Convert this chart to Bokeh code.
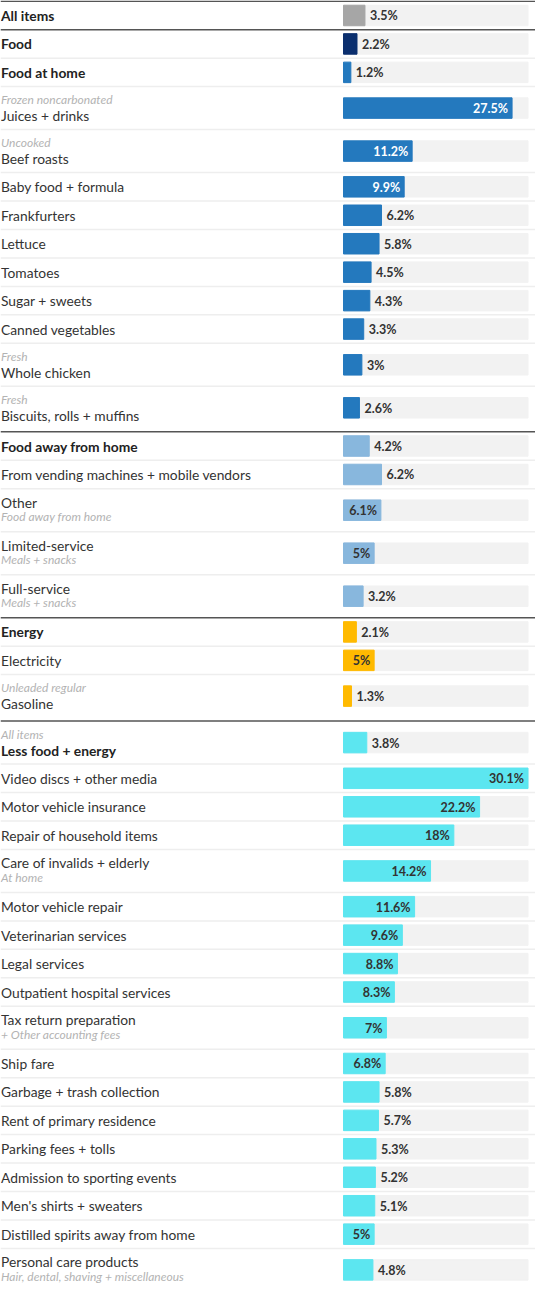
from bokeh.plotting import figure
from bokeh.models import ColumnDataSource, Range1d
from bokeh.embed import file_html
from bokeh.resources import INLINE
from bokeh.core.properties import value as V

# ---------------- data ----------------
labels = ["All items", "Food", "Food at home", "Juices + drinks", "Beef roasts",
          "Baby food + formula", "Frankfurters", "Lettuce", "Tomatoes", "Sugar + sweets",
          "Canned vegetables", "Whole chicken", "Biscuits, rolls + muffins",
          "Food away from home", "From vending machines + mobile vendors", "Other",
          "Limited-service", "Full-service", "Energy", "Electricity", "Gasoline",
          "Less food + energy", "Video discs + other media", "Motor vehicle insurance",
          "Repair of household items", "Care of invalids + elderly", "Motor vehicle repair",
          "Veterinarian services", "Legal services", "Outpatient hospital services",
          "Tax return preparation", "Ship fare", "Garbage + trash collection",
          "Rent of primary residence", "Parking fees + tolls", "Admission to sporting events",
          "Men's shirts + sweaters", "Distilled spirits away from home", "Personal care products"]
values = [3.5, 2.2, 1.2, 27.5, 11.2, 9.9, 6.2, 5.8, 4.5, 4.3, 3.3, 3.0, 2.6,
          4.2, 6.2, 6.1, 5.0, 3.2, 2.1, 5.0, 1.3,
          3.8, 30.1, 22.2, 18.0, 14.2, 11.6, 9.6, 8.8, 8.3, 7.0, 6.8, 5.8, 5.7, 5.3, 5.2, 5.1, 5.0, 4.8]
prefixes = ["", "", "", "Frozen noncarbonated", "Uncooked", "", "", "", "", "", "", "Fresh", "Fresh",
            "", "", "", "", "", "", "", "Unleaded regular",
            "All items", "", "", "", "", "", "", "", "", "", "", "", "", "", "", "", "", ""]
suffixes = ["", "", "", "", "", "", "", "", "", "", "", "", "",
            "", "", "Food away from home", "Meals + snacks", "Meals + snacks", "", "", "",
            "", "", "", "", "At home", "", "", "", "", "+ Other accounting fees", "", "", "", "", "", "", "",
            "Hair, dental, shaving + miscellaneous"]
groups = (["All items", "Food"] + ["Food at home"] * 11 + ["Food away from home"] * 5
          + ["Energy"] * 3 + ["Less food + energy"] * 18)
sections = [0] + [1] * 12 + [2] * 5 + [3] * 3 + [4] * 18
headers = ["All items", "Food", "Food at home", "Food away from home", "Energy", "Less food + energy"]

# ---------------- style ----------------
group_colors = {"All items": "#a6a6a6", "Food": "#0b2f6e", "Food at home": "#2479be",
                "Food away from home": "#88b7dd", "Energy": "#ffba00",
                "Less food + energy": "#5ce6f0"}
inside_white = {"Food", "Food at home"}
FONT = "Lato"
SCALE = 6.13        # px per percentage point
BAR0 = 343          # px where bars start
W, H = 535, 1284
SINGLE, DOUBLE = 28.45, 43.0
GAP = {13: 2.5, 21: 3.5}
BAR_H = 20.5
x0 = -BAR0 / SCALE
x1 = (W - BAR0) / SCALE
track_max = max(values)


def fmt(v):
    return f"{v:g}%"


def text_w(s):
    w = 0
    for c in s:
        if c == "1":
            w += 5.5
        elif c.isdigit():
            w += 7.2
        elif c == ".":
            w += 3.0
        elif c == "%":
            w += 10.0
    return w


rows = dict(y=[], v=[], color=[])
main_norm = dict(x=[], y=[], t=[])
main_bold = dict(x=[], y=[], t=[])
subs = dict(x=[], y=[], t=[])
val_in_w = dict(x=[], y=[], t=[])
val_in_d = dict(x=[], y=[], t=[])
val_out = dict(x=[], y=[], t=[])
dark_y, light_y = [], []

LX = x0 + 0.5 / SCALE
y = 0.75
n = len(labels)
for i in range(n):
    if i in GAP:
        y += GAP[i]
    top = y
    if i == 0 or sections[i] != sections[i - 1]:
        dark_y.append(top)
    double = bool(prefixes[i] or suffixes[i])
    h = DOUBLE if double else SINGLE
    c = top + h / 2
    if prefixes[i]:
        sy, my = top + 13, top + 29
        subs["x"].append(LX); subs["y"].append(sy); subs["t"].append(prefixes[i])
    elif suffixes[i]:
        my, sy = top + 13.5, top + 28
        subs["x"].append(LX); subs["y"].append(sy); subs["t"].append(suffixes[i])
    else:
        my = c
    tgt = main_bold if labels[i] in headers else main_norm
    tgt["x"].append(LX); tgt["y"].append(my); tgt["t"].append(labels[i])

    v = values[i]
    rows["y"].append(c); rows["v"].append(v); rows["color"].append(group_colors[groups[i]])
    s = fmt(v)
    if v * SCALE - text_w(s) >= 11:
        d = val_in_w if groups[i] in inside_white else val_in_d
        d["x"].append(v - 4 / SCALE); d["y"].append(c + 0.5); d["t"].append(s)
    else:
        val_out["x"].append(v + 5 / SCALE); val_out["y"].append(c + 0.5); val_out["t"].append(s)

    y = top + h
    if i + 1 < n and sections[i + 1] == sections[i]:
        light_y.append(y)

p = figure(width=W, height=H, x_range=Range1d(x0, x1), y_range=Range1d(H, 0),
           output_backend="svg", toolbar_location=None, min_border=0)
p.axis.visible = False
p.grid.visible = False
p.outline_line_color = None
p.background_fill_color = "white"

src = ColumnDataSource(dict(y=rows["y"], v=rows["v"], color=rows["color"],
                            tmax=[track_max] * len(rows["y"])))
p.hbar(y="y", left=0, right="tmax", height=BAR_H, color="#f2f2f2", source=src)
p.hbar(y="y", left=0, right="v", height=BAR_H, color="color", source=src)

p.segment(x0=[x0] * len(light_y), x1=[x1] * len(light_y), y0=light_y, y1=light_y,
          line_color="#eeeeee", line_width=1.5)
p.segment(x0=[x0] * len(dark_y), x1=[x1] * len(dark_y), y0=dark_y, y1=dark_y,
          line_color="#555555", line_width=1.5)

p.text(x="x", y="y", text="t", source=ColumnDataSource(main_norm), text_font=V(FONT),
       text_font_size="13.8px", text_color="#333333", text_baseline="middle")
p.text(x="x", y="y", text="t", source=ColumnDataSource(main_bold), text_font=V(FONT),
       text_font_size="13.8px", text_font_style="bold", text_color="#222222", text_baseline="middle")
p.text(x="x", y="y", text="t", source=ColumnDataSource(subs), text_font=V(FONT),
       text_font_size="12px", text_font_style="italic", text_color="#b3b3b3", text_baseline="middle")
p.text(x="x", y="y", text="t", source=ColumnDataSource(val_in_w), text_font=V(FONT),
       text_font_size="12.5px", text_font_style="bold", text_color="#ffffff",
       text_baseline="middle", text_align="right")
p.text(x="x", y="y", text="t", source=ColumnDataSource(val_in_d), text_font=V(FONT),
       text_font_size="12.5px", text_font_style="bold", text_color="#333333",
       text_baseline="middle", text_align="right")
p.text(x="x", y="y", text="t", source=ColumnDataSource(val_out), text_font=V(FONT),
       text_font_size="12.5px", text_font_style="bold", text_color="#333333",
       text_baseline="middle", text_align="left")

open("out.html", "w").write(file_html(p, INLINE))
